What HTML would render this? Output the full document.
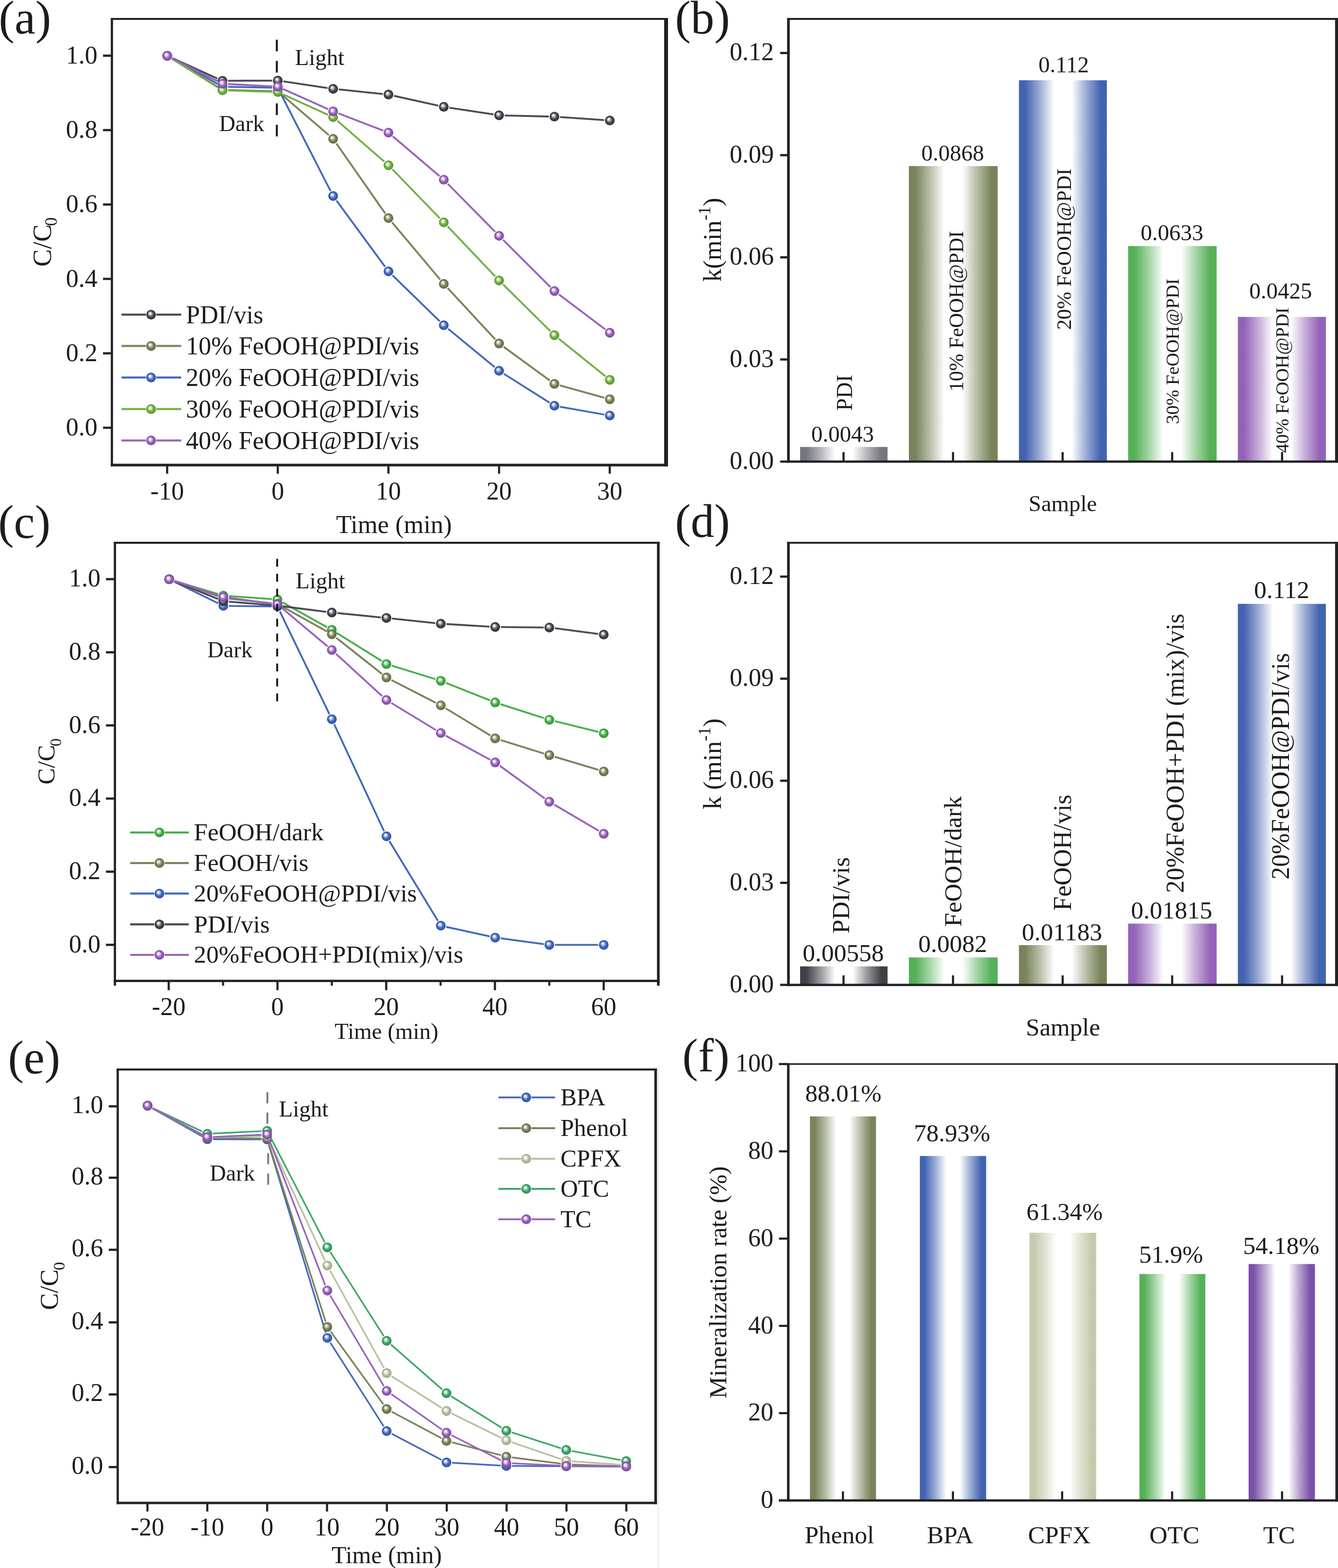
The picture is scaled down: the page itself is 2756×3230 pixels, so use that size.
<!DOCTYPE html>
<html lang="en"><head><meta charset="utf-8"><title>Photocatalytic degradation figure</title>
<style>html,body{margin:0;padding:0;background:#fff}body{width:2756px;height:3230px;overflow:hidden}svg{display:block}text{font-family:"Liberation Serif","Times New Roman",serif}</style></head><body>
<svg xmlns="http://www.w3.org/2000/svg" width="2756" height="3230" viewBox="0 0 2756 3230">
<defs>
<radialGradient id="m_gray" cx="0.5" cy="0.5" r="0.5" fx="0.37" fy="0.34"><stop offset="0" stop-color="#ffffff"/><stop offset="0.1" stop-color="#ffffff"/><stop offset="0.3" stop-color="#b9bac0"/><stop offset="0.6" stop-color="#4a4b52"/><stop offset="1" stop-color="#2b2c31"/></radialGradient>
<radialGradient id="m_olive" cx="0.5" cy="0.5" r="0.5" fx="0.37" fy="0.34"><stop offset="0" stop-color="#ffffff"/><stop offset="0.1" stop-color="#ffffff"/><stop offset="0.3" stop-color="#c9cfb4"/><stop offset="0.6" stop-color="#7a8359"/><stop offset="1" stop-color="#5d6642"/></radialGradient>
<radialGradient id="m_blue" cx="0.5" cy="0.5" r="0.5" fx="0.37" fy="0.34"><stop offset="0" stop-color="#ffffff"/><stop offset="0.1" stop-color="#ffffff"/><stop offset="0.3" stop-color="#b4c6f0"/><stop offset="0.6" stop-color="#4169bd"/><stop offset="1" stop-color="#2d4f9c"/></radialGradient>
<radialGradient id="m_lgreen" cx="0.5" cy="0.5" r="0.5" fx="0.37" fy="0.34"><stop offset="0" stop-color="#ffffff"/><stop offset="0.1" stop-color="#ffffff"/><stop offset="0.3" stop-color="#cfeab4"/><stop offset="0.6" stop-color="#72b043"/><stop offset="1" stop-color="#57902d"/></radialGradient>
<radialGradient id="m_purple" cx="0.5" cy="0.5" r="0.5" fx="0.37" fy="0.34"><stop offset="0" stop-color="#ffffff"/><stop offset="0.1" stop-color="#ffffff"/><stop offset="0.3" stop-color="#e2c8f2"/><stop offset="0.6" stop-color="#9a62bd"/><stop offset="1" stop-color="#7b479e"/></radialGradient>
<radialGradient id="m_green" cx="0.5" cy="0.5" r="0.5" fx="0.37" fy="0.34"><stop offset="0" stop-color="#ffffff"/><stop offset="0.1" stop-color="#ffffff"/><stop offset="0.3" stop-color="#bfe8c0"/><stop offset="0.6" stop-color="#45b049"/><stop offset="1" stop-color="#2f8f35"/></radialGradient>
<radialGradient id="m_beige" cx="0.5" cy="0.5" r="0.5" fx="0.37" fy="0.34"><stop offset="0" stop-color="#ffffff"/><stop offset="0.1" stop-color="#ffffff"/><stop offset="0.3" stop-color="#eef0e2"/><stop offset="0.6" stop-color="#b9c0a0"/><stop offset="1" stop-color="#9aa282"/></radialGradient>
<radialGradient id="m_tgreen" cx="0.5" cy="0.5" r="0.5" fx="0.37" fy="0.34"><stop offset="0" stop-color="#ffffff"/><stop offset="0.1" stop-color="#ffffff"/><stop offset="0.3" stop-color="#b9e6cc"/><stop offset="0.6" stop-color="#3fa869"/><stop offset="1" stop-color="#2c874f"/></radialGradient>
<linearGradient id="bgray" x1="0" y1="0" x2="1" y2="0"><stop offset="0" stop-color="#75777e"/><stop offset="0.07" stop-color="#75777e"/><stop offset="0.24" stop-color="#b7b8bc"/><stop offset="0.4" stop-color="#ffffff"/><stop offset="0.6" stop-color="#ffffff"/><stop offset="0.76" stop-color="#b7b8bc"/><stop offset="0.93" stop-color="#75777e"/><stop offset="1" stop-color="#75777e"/></linearGradient>
<linearGradient id="bdgray" x1="0" y1="0" x2="1" y2="0"><stop offset="0" stop-color="#3f4046"/><stop offset="0.07" stop-color="#3f4046"/><stop offset="0.24" stop-color="#9b9c9f"/><stop offset="0.4" stop-color="#ffffff"/><stop offset="0.6" stop-color="#ffffff"/><stop offset="0.76" stop-color="#9b9c9f"/><stop offset="0.93" stop-color="#3f4046"/><stop offset="1" stop-color="#3f4046"/></linearGradient>
<linearGradient id="bolive" x1="0" y1="0" x2="1" y2="0"><stop offset="0" stop-color="#79835a"/><stop offset="0.07" stop-color="#79835a"/><stop offset="0.24" stop-color="#b9bfa9"/><stop offset="0.4" stop-color="#ffffff"/><stop offset="0.6" stop-color="#ffffff"/><stop offset="0.76" stop-color="#b9bfa9"/><stop offset="0.93" stop-color="#79835a"/><stop offset="1" stop-color="#79835a"/></linearGradient>
<linearGradient id="bblue" x1="0" y1="0" x2="1" y2="0"><stop offset="0" stop-color="#4263b1"/><stop offset="0.07" stop-color="#4263b1"/><stop offset="0.24" stop-color="#9daed6"/><stop offset="0.4" stop-color="#ffffff"/><stop offset="0.6" stop-color="#ffffff"/><stop offset="0.76" stop-color="#9daed6"/><stop offset="0.93" stop-color="#4263b1"/><stop offset="1" stop-color="#4263b1"/></linearGradient>
<linearGradient id="bgreen" x1="0" y1="0" x2="1" y2="0"><stop offset="0" stop-color="#55b058"/><stop offset="0.07" stop-color="#55b058"/><stop offset="0.24" stop-color="#a7d6a8"/><stop offset="0.4" stop-color="#ffffff"/><stop offset="0.6" stop-color="#ffffff"/><stop offset="0.76" stop-color="#a7d6a8"/><stop offset="0.93" stop-color="#55b058"/><stop offset="1" stop-color="#55b058"/></linearGradient>
<linearGradient id="bpurple" x1="0" y1="0" x2="1" y2="0"><stop offset="0" stop-color="#9463b8"/><stop offset="0.07" stop-color="#9463b8"/><stop offset="0.24" stop-color="#c7aeda"/><stop offset="0.4" stop-color="#ffffff"/><stop offset="0.6" stop-color="#ffffff"/><stop offset="0.76" stop-color="#c7aeda"/><stop offset="0.93" stop-color="#9463b8"/><stop offset="1" stop-color="#9463b8"/></linearGradient>
<linearGradient id="bdpurple" x1="0" y1="0" x2="1" y2="0"><stop offset="0" stop-color="#7a50a8"/><stop offset="0.07" stop-color="#7a50a8"/><stop offset="0.24" stop-color="#baa4d2"/><stop offset="0.4" stop-color="#ffffff"/><stop offset="0.6" stop-color="#ffffff"/><stop offset="0.76" stop-color="#baa4d2"/><stop offset="0.93" stop-color="#7a50a8"/><stop offset="1" stop-color="#7a50a8"/></linearGradient>
<linearGradient id="bbeige" x1="0" y1="0" x2="1" y2="0"><stop offset="0" stop-color="#c6caac"/><stop offset="0.07" stop-color="#c6caac"/><stop offset="0.24" stop-color="#e1e3d4"/><stop offset="0.4" stop-color="#ffffff"/><stop offset="0.6" stop-color="#ffffff"/><stop offset="0.76" stop-color="#e1e3d4"/><stop offset="0.93" stop-color="#c6caac"/><stop offset="1" stop-color="#c6caac"/></linearGradient>
</defs>
<rect x="0" y="0" width="2756" height="3230" fill="#ffffff"/>
<g id="panel-a">
<line x1="212.2" y1="881.1" x2="230.5" y2="881.1" stroke="#222226" stroke-width="4.6"/>
<text x="200.8" y="897.2" font-size="52" text-anchor="end" fill="#1c1c1e">0.0</text>
<line x1="212.2" y1="727.8" x2="230.5" y2="727.8" stroke="#222226" stroke-width="4.6"/>
<text x="200.8" y="743.9" font-size="52" text-anchor="end" fill="#1c1c1e">0.2</text>
<line x1="212.2" y1="574.5" x2="230.5" y2="574.5" stroke="#222226" stroke-width="4.6"/>
<text x="200.8" y="590.6" font-size="52" text-anchor="end" fill="#1c1c1e">0.4</text>
<line x1="212.2" y1="421.3" x2="230.5" y2="421.3" stroke="#222226" stroke-width="4.6"/>
<text x="200.8" y="437.4" font-size="52" text-anchor="end" fill="#1c1c1e">0.6</text>
<line x1="212.2" y1="268" x2="230.5" y2="268" stroke="#222226" stroke-width="4.6"/>
<text x="200.8" y="284.1" font-size="52" text-anchor="end" fill="#1c1c1e">0.8</text>
<line x1="212.2" y1="114.7" x2="230.5" y2="114.7" stroke="#222226" stroke-width="4.6"/>
<text x="200.8" y="130.8" font-size="52" text-anchor="end" fill="#1c1c1e">1.0</text>
<line x1="344.3" y1="958" x2="344.3" y2="975.8" stroke="#222226" stroke-width="4.4"/>
<text x="344.3" y="1029.3" font-size="52" text-anchor="middle" fill="#1c1c1e">-10</text>
<line x1="572.2" y1="958" x2="572.2" y2="975.8" stroke="#222226" stroke-width="4.4"/>
<text x="572.2" y="1029.3" font-size="52" text-anchor="middle" fill="#1c1c1e">0</text>
<line x1="800.1" y1="958" x2="800.1" y2="975.8" stroke="#222226" stroke-width="4.4"/>
<text x="800.1" y="1029.3" font-size="52" text-anchor="middle" fill="#1c1c1e">10</text>
<line x1="1028" y1="958" x2="1028" y2="975.8" stroke="#222226" stroke-width="4.4"/>
<text x="1028" y="1029.3" font-size="52" text-anchor="middle" fill="#1c1c1e">20</text>
<line x1="1255.9" y1="958" x2="1255.9" y2="975.8" stroke="#222226" stroke-width="4.4"/>
<text x="1255.9" y="1029.3" font-size="52" text-anchor="middle" fill="#1c1c1e">30</text>
<text x="811.5" y="1097.8" font-size="52.5" text-anchor="middle" fill="#1c1c1e">Time (min)</text>
<text transform="translate(104.9 498.5) rotate(-90)" font-size="54" text-anchor="middle" fill="#1c1c1e">C/C<tspan font-size="35.5" dx="-3.5" dy="12.5">0</tspan></text>
<text x="-2.4" y="69" font-size="97" text-anchor="start" fill="#1c1c1e">(a)</text>
<line x1="570.2" y1="81.7" x2="570.2" y2="282.7" stroke="#1e1e22" stroke-width="4.2" stroke-dasharray="24 19.8"/>
<text x="607.5" y="133.8" font-size="47" text-anchor="start" fill="#1c1c1e">Light</text>
<text x="451.2" y="270.2" font-size="46.5" text-anchor="start" fill="#1c1c1e">Dark</text>
<line x1="355.1" y1="119.8" x2="447.7" y2="161.7" stroke="#4a4b52" stroke-width="3.8"/>
<line x1="469.9" y1="166.4" x2="560.6" y2="166.1" stroke="#4a4b52" stroke-width="3.8"/>
<line x1="583.7" y1="167.7" x2="674.7" y2="181.3" stroke="#4a4b52" stroke-width="3.8"/>
<line x1="697.7" y1="184.2" x2="788.7" y2="193.6" stroke="#4a4b52" stroke-width="3.8"/>
<line x1="811.5" y1="197.3" x2="902.8" y2="217.6" stroke="#4a4b52" stroke-width="3.8"/>
<line x1="925.6" y1="221.9" x2="1016.5" y2="235.7" stroke="#4a4b52" stroke-width="3.8"/>
<line x1="1039.6" y1="237.8" x2="1130.4" y2="240" stroke="#4a4b52" stroke-width="3.8"/>
<line x1="1153.6" y1="241.1" x2="1244.4" y2="247.4" stroke="#4a4b52" stroke-width="3.8"/>
<circle cx="344.5" cy="115" r="10" fill="url(#m_gray)"/>
<circle cx="458.3" cy="166.5" r="10" fill="url(#m_gray)"/>
<circle cx="572.2" cy="166" r="10" fill="url(#m_gray)"/>
<circle cx="686.2" cy="183" r="10" fill="url(#m_gray)"/>
<circle cx="800.2" cy="194.8" r="10" fill="url(#m_gray)"/>
<circle cx="914.1" cy="220.1" r="10" fill="url(#m_gray)"/>
<circle cx="1028" cy="237.5" r="10" fill="url(#m_gray)"/>
<circle cx="1142" cy="240.3" r="10" fill="url(#m_gray)"/>
<circle cx="1256" cy="248.2" r="10" fill="url(#m_gray)"/>
<line x1="354.4" y1="121.1" x2="448.4" y2="178.9" stroke="#7a8359" stroke-width="3.8"/>
<line x1="469.9" y1="185.3" x2="560.6" y2="187.7" stroke="#7a8359" stroke-width="3.8"/>
<line x1="581" y1="195.6" x2="677.4" y2="278.4" stroke="#7a8359" stroke-width="3.8"/>
<line x1="692.8" y1="295.5" x2="793.6" y2="439.8" stroke="#7a8359" stroke-width="3.8"/>
<line x1="807.7" y1="458.2" x2="906.6" y2="575.9" stroke="#7a8359" stroke-width="3.8"/>
<line x1="922" y1="593.3" x2="1020.1" y2="699.1" stroke="#7a8359" stroke-width="3.8"/>
<line x1="1037.4" y1="714.4" x2="1132.6" y2="783.9" stroke="#7a8359" stroke-width="3.8"/>
<line x1="1153.2" y1="793.8" x2="1244.8" y2="819.3" stroke="#7a8359" stroke-width="3.8"/>
<circle cx="344.5" cy="115" r="10" fill="url(#m_olive)"/>
<circle cx="458.3" cy="185" r="10" fill="url(#m_olive)"/>
<circle cx="572.2" cy="188" r="10" fill="url(#m_olive)"/>
<circle cx="686.2" cy="286" r="10" fill="url(#m_olive)"/>
<circle cx="800.2" cy="449.3" r="10" fill="url(#m_olive)"/>
<circle cx="914.1" cy="584.8" r="10" fill="url(#m_olive)"/>
<circle cx="1028" cy="707.6" r="10" fill="url(#m_olive)"/>
<circle cx="1142" cy="790.7" r="10" fill="url(#m_olive)"/>
<circle cx="1256" cy="822.4" r="10" fill="url(#m_olive)"/>
<line x1="354.6" y1="120.7" x2="448.2" y2="172.8" stroke="#4169bd" stroke-width="3.8"/>
<line x1="469.9" y1="178.8" x2="560.6" y2="180.7" stroke="#4169bd" stroke-width="3.8"/>
<line x1="577.5" y1="191.3" x2="680.9" y2="393.5" stroke="#4169bd" stroke-width="3.8"/>
<line x1="693.1" y1="413.1" x2="793.3" y2="549.7" stroke="#4169bd" stroke-width="3.8"/>
<line x1="808.5" y1="567.1" x2="905.8" y2="661.9" stroke="#4169bd" stroke-width="3.8"/>
<line x1="923.1" y1="677.4" x2="1019" y2="756.4" stroke="#4169bd" stroke-width="3.8"/>
<line x1="1037.8" y1="770" x2="1132.2" y2="829.6" stroke="#4169bd" stroke-width="3.8"/>
<line x1="1153.4" y1="837.8" x2="1244.6" y2="854" stroke="#4169bd" stroke-width="3.8"/>
<circle cx="344.5" cy="115" r="10" fill="url(#m_blue)"/>
<circle cx="458.3" cy="178.5" r="10" fill="url(#m_blue)"/>
<circle cx="572.2" cy="181" r="10" fill="url(#m_blue)"/>
<circle cx="686.2" cy="403.8" r="10" fill="url(#m_blue)"/>
<circle cx="800.2" cy="559" r="10" fill="url(#m_blue)"/>
<circle cx="914.1" cy="670" r="10" fill="url(#m_blue)"/>
<circle cx="1028" cy="763.8" r="10" fill="url(#m_blue)"/>
<circle cx="1142" cy="835.8" r="10" fill="url(#m_blue)"/>
<circle cx="1256" cy="856" r="10" fill="url(#m_blue)"/>
<line x1="354.3" y1="121.1" x2="448.5" y2="179.9" stroke="#72b043" stroke-width="3.8"/>
<line x1="469.9" y1="186.4" x2="560.6" y2="189.1" stroke="#72b043" stroke-width="3.8"/>
<line x1="582.8" y1="194.3" x2="675.6" y2="236.5" stroke="#72b043" stroke-width="3.8"/>
<line x1="695" y1="248.9" x2="791.4" y2="332.9" stroke="#72b043" stroke-width="3.8"/>
<line x1="808.3" y1="348.8" x2="906" y2="449.7" stroke="#72b043" stroke-width="3.8"/>
<line x1="922.1" y1="466.4" x2="1020" y2="569.3" stroke="#72b043" stroke-width="3.8"/>
<line x1="1036.2" y1="585.9" x2="1133.8" y2="682.3" stroke="#72b043" stroke-width="3.8"/>
<line x1="1151" y1="697.8" x2="1247" y2="775.1" stroke="#72b043" stroke-width="3.8"/>
<circle cx="344.5" cy="115" r="10" fill="url(#m_lgreen)"/>
<circle cx="458.3" cy="186" r="10" fill="url(#m_lgreen)"/>
<circle cx="572.2" cy="189.5" r="10" fill="url(#m_lgreen)"/>
<circle cx="686.2" cy="241.3" r="10" fill="url(#m_lgreen)"/>
<circle cx="800.2" cy="340.5" r="10" fill="url(#m_lgreen)"/>
<circle cx="914.1" cy="458" r="10" fill="url(#m_lgreen)"/>
<circle cx="1028" cy="577.7" r="10" fill="url(#m_lgreen)"/>
<circle cx="1142" cy="690.5" r="10" fill="url(#m_lgreen)"/>
<circle cx="1256" cy="782.4" r="10" fill="url(#m_lgreen)"/>
<line x1="354.9" y1="120.2" x2="447.9" y2="167.3" stroke="#9a62bd" stroke-width="3.8"/>
<line x1="469.9" y1="173.1" x2="560.6" y2="178" stroke="#9a62bd" stroke-width="3.8"/>
<line x1="582.8" y1="183.3" x2="675.6" y2="224.7" stroke="#9a62bd" stroke-width="3.8"/>
<line x1="697" y1="233.6" x2="789.4" y2="269" stroke="#9a62bd" stroke-width="3.8"/>
<line x1="809" y1="280.7" x2="905.3" y2="362.7" stroke="#9a62bd" stroke-width="3.8"/>
<line x1="922.2" y1="378.5" x2="1019.9" y2="477.5" stroke="#9a62bd" stroke-width="3.8"/>
<line x1="1036.2" y1="494" x2="1133.8" y2="591.3" stroke="#9a62bd" stroke-width="3.8"/>
<line x1="1151.3" y1="606.5" x2="1246.7" y2="678.4" stroke="#9a62bd" stroke-width="3.8"/>
<circle cx="344.5" cy="115" r="10" fill="url(#m_purple)"/>
<circle cx="458.3" cy="172.5" r="10" fill="url(#m_purple)"/>
<circle cx="572.2" cy="178.6" r="10" fill="url(#m_purple)"/>
<circle cx="686.2" cy="229.4" r="10" fill="url(#m_purple)"/>
<circle cx="800.2" cy="273.2" r="10" fill="url(#m_purple)"/>
<circle cx="914.1" cy="370.2" r="10" fill="url(#m_purple)"/>
<circle cx="1028" cy="485.8" r="10" fill="url(#m_purple)"/>
<circle cx="1142" cy="599.5" r="10" fill="url(#m_purple)"/>
<circle cx="1256" cy="685.4" r="10" fill="url(#m_purple)"/>
<line x1="250.2" y1="648.2" x2="300.4" y2="648.2" stroke="#4a4b52" stroke-width="4.2"/>
<line x1="322" y1="648.2" x2="373.2" y2="648.2" stroke="#4a4b52" stroke-width="4.2"/>
<circle cx="311.2" cy="648.2" r="10" fill="url(#m_gray)"/>
<text x="383" y="665.8" font-size="52.1" text-anchor="start" fill="#1c1c1e">PDI/vis</text>
<line x1="250.2" y1="712.7" x2="300.4" y2="712.7" stroke="#7a8359" stroke-width="4.2"/>
<line x1="322" y1="712.7" x2="373.2" y2="712.7" stroke="#7a8359" stroke-width="4.2"/>
<circle cx="311.2" cy="712.7" r="10" fill="url(#m_olive)"/>
<text x="383" y="730.3" font-size="52.1" text-anchor="start" fill="#1c1c1e">10% FeOOH@PDI/vis</text>
<line x1="250.2" y1="777.6" x2="300.4" y2="777.6" stroke="#4169bd" stroke-width="4.2"/>
<line x1="322" y1="777.6" x2="373.2" y2="777.6" stroke="#4169bd" stroke-width="4.2"/>
<circle cx="311.2" cy="777.6" r="10" fill="url(#m_blue)"/>
<text x="383" y="795.2" font-size="52.1" text-anchor="start" fill="#1c1c1e">20% FeOOH@PDI/vis</text>
<line x1="250.2" y1="842.7" x2="300.4" y2="842.7" stroke="#72b043" stroke-width="4.2"/>
<line x1="322" y1="842.7" x2="373.2" y2="842.7" stroke="#72b043" stroke-width="4.2"/>
<circle cx="311.2" cy="842.7" r="10" fill="url(#m_lgreen)"/>
<text x="383" y="860.3" font-size="52.1" text-anchor="start" fill="#1c1c1e">30% FeOOH@PDI/vis</text>
<line x1="250.2" y1="907.3" x2="300.4" y2="907.3" stroke="#9a62bd" stroke-width="4.2"/>
<line x1="322" y1="907.3" x2="373.2" y2="907.3" stroke="#9a62bd" stroke-width="4.2"/>
<circle cx="311.2" cy="907.3" r="10" fill="url(#m_purple)"/>
<text x="383" y="924.9" font-size="52.1" text-anchor="start" fill="#1c1c1e">40% FeOOH@PDI/vis</text>
<line x1="230.5" y1="36.9" x2="230.5" y2="960.8" stroke="#222226" stroke-width="4.6"/>
<line x1="1372" y1="36.9" x2="1372" y2="960.8" stroke="#222226" stroke-width="8"/>
<line x1="228.2" y1="39" x2="1376" y2="39" stroke="#222226" stroke-width="4.2"/>
<line x1="228.2" y1="958" x2="1376" y2="958" stroke="#222226" stroke-width="5.5"/>
</g>
<g id="panel-b">
<rect x="1648" y="920.7" width="180.2" height="30.2" fill="url(#bgray)"/>
<rect x="1872.1" y="342.1" width="182.9" height="608.8" fill="url(#bolive)"/>
<rect x="2098.8" y="165.3" width="181.1" height="785.6" fill="url(#bblue)"/>
<rect x="2323.6" y="506.9" width="182.4" height="444" fill="url(#bgreen)"/>
<rect x="2549.7" y="652.8" width="181.3" height="298.1" fill="url(#bpurple)"/>
<line x1="1607" y1="950.9" x2="1624" y2="950.9" stroke="#222226" stroke-width="4.6"/>
<text x="1594" y="965.9" font-size="52" text-anchor="end" fill="#1c1c1e">0.00</text>
<line x1="1607" y1="740.5" x2="1624" y2="740.5" stroke="#222226" stroke-width="4.6"/>
<text x="1594" y="755.5" font-size="52" text-anchor="end" fill="#1c1c1e">0.03</text>
<line x1="1607" y1="530.1" x2="1624" y2="530.1" stroke="#222226" stroke-width="4.6"/>
<text x="1594" y="545.1" font-size="52" text-anchor="end" fill="#1c1c1e">0.06</text>
<line x1="1607" y1="319.6" x2="1624" y2="319.6" stroke="#222226" stroke-width="4.6"/>
<text x="1594" y="334.6" font-size="52" text-anchor="end" fill="#1c1c1e">0.09</text>
<line x1="1607" y1="109.2" x2="1624" y2="109.2" stroke="#222226" stroke-width="4.6"/>
<text x="1594" y="124.2" font-size="52" text-anchor="end" fill="#1c1c1e">0.12</text>
<line x1="1737.5" y1="931.3" x2="1737.5" y2="950.9" stroke="#222226" stroke-width="4.4"/>
<line x1="1963" y1="931.3" x2="1963" y2="950.9" stroke="#222226" stroke-width="4.4"/>
<line x1="2188.8" y1="931.3" x2="2188.8" y2="950.9" stroke="#222226" stroke-width="4.4"/>
<line x1="2414.4" y1="931.3" x2="2414.4" y2="950.9" stroke="#222226" stroke-width="4.4"/>
<line x1="2640.8" y1="931.3" x2="2640.8" y2="950.9" stroke="#222226" stroke-width="4.4"/>
<line x1="1624" y1="37.2" x2="1624" y2="953.3" stroke="#222226" stroke-width="5.5"/>
<line x1="2753" y1="37.2" x2="2753" y2="953.3" stroke="#222226" stroke-width="6"/>
<line x1="1621.3" y1="39" x2="2756" y2="39" stroke="#222226" stroke-width="3.8"/>
<line x1="1621.3" y1="950.9" x2="2756" y2="950.9" stroke="#222226" stroke-width="4.8"/>
<text transform="translate(1484.5 493.8) rotate(-90)" font-size="52.8" text-anchor="middle" fill="#1c1c1e">k(min<tspan font-size="35" dy="-21.5">-1</tspan><tspan dy="21.5">)</tspan></text>
<text x="1390.4" y="69" font-size="97" text-anchor="start" fill="#1c1c1e">(b)</text>
<text x="1735.5" y="910.3" font-size="47" text-anchor="middle" fill="#1c1c1e">0.0043</text>
<text x="1962.3" y="330.6" font-size="47" text-anchor="middle" fill="#1c1c1e">0.0868</text>
<text x="2191" y="149.3" font-size="47" text-anchor="middle" fill="#1c1c1e">0.112</text>
<text x="2414" y="494.9" font-size="47" text-anchor="middle" fill="#1c1c1e">0.0633</text>
<text x="2637.8" y="614.5" font-size="47" text-anchor="middle" fill="#1c1c1e">0.0425</text>
<text x="1755" y="846" font-size="46" text-anchor="start" fill="#1c1c1e" transform="rotate(-90 1755 846)">PDI</text>
<text x="1984" y="806.5" font-size="42.5" text-anchor="start" fill="#1c1c1e" transform="rotate(-90 1984 806.5)">10% FeOOH@PDI</text>
<text x="2206" y="679.3" font-size="42.7" text-anchor="start" fill="#1c1c1e" transform="rotate(-90 2206 679.3)">20% FeOOH@PDI</text>
<text x="2427.5" y="873.5" font-size="38.5" text-anchor="start" fill="#1c1c1e" transform="rotate(-90 2427.5 873.5)">30% FeOOH@PDI</text>
<text x="2653.5" y="933" font-size="38.5" text-anchor="start" fill="#1c1c1e" transform="rotate(-90 2653.5 933)">40% FeOOH@PDI</text>
<text x="2189" y="1052.8" font-size="47" text-anchor="middle" fill="#1c1c1e">Sample</text>
</g>
<g id="panel-c">
<line x1="218.2" y1="1946.3" x2="236.7" y2="1946.3" stroke="#222226" stroke-width="4.6"/>
<text x="207" y="1961.5" font-size="52" text-anchor="end" fill="#1c1c1e">0.0</text>
<line x1="218.2" y1="1795.6" x2="236.7" y2="1795.6" stroke="#222226" stroke-width="4.6"/>
<text x="207" y="1810.8" font-size="52" text-anchor="end" fill="#1c1c1e">0.2</text>
<line x1="218.2" y1="1645" x2="236.7" y2="1645" stroke="#222226" stroke-width="4.6"/>
<text x="207" y="1660.2" font-size="52" text-anchor="end" fill="#1c1c1e">0.4</text>
<line x1="218.2" y1="1494.3" x2="236.7" y2="1494.3" stroke="#222226" stroke-width="4.6"/>
<text x="207" y="1509.5" font-size="52" text-anchor="end" fill="#1c1c1e">0.6</text>
<line x1="218.2" y1="1343.7" x2="236.7" y2="1343.7" stroke="#222226" stroke-width="4.6"/>
<text x="207" y="1358.9" font-size="52" text-anchor="end" fill="#1c1c1e">0.8</text>
<line x1="218.2" y1="1193" x2="236.7" y2="1193" stroke="#222226" stroke-width="4.6"/>
<text x="207" y="1208.2" font-size="52" text-anchor="end" fill="#1c1c1e">1.0</text>
<line x1="347.5" y1="2020.6" x2="347.5" y2="2039.8" stroke="#222226" stroke-width="4.4"/>
<text x="347.5" y="2091.3" font-size="52" text-anchor="middle" fill="#1c1c1e">-20</text>
<line x1="571.5" y1="2020.6" x2="571.5" y2="2039.8" stroke="#222226" stroke-width="4.4"/>
<text x="571.5" y="2091.3" font-size="52" text-anchor="middle" fill="#1c1c1e">0</text>
<line x1="795.5" y1="2020.6" x2="795.5" y2="2039.8" stroke="#222226" stroke-width="4.4"/>
<text x="795.5" y="2091.3" font-size="52" text-anchor="middle" fill="#1c1c1e">20</text>
<line x1="1019.5" y1="2020.6" x2="1019.5" y2="2039.8" stroke="#222226" stroke-width="4.4"/>
<text x="1019.5" y="2091.3" font-size="52" text-anchor="middle" fill="#1c1c1e">40</text>
<line x1="1243.5" y1="2020.6" x2="1243.5" y2="2039.8" stroke="#222226" stroke-width="4.4"/>
<text x="1243.5" y="2091.3" font-size="52" text-anchor="middle" fill="#1c1c1e">60</text>
<line x1="459.5" y1="2020.6" x2="459.5" y2="2030.5" stroke="#222226" stroke-width="4.2"/>
<line x1="683.5" y1="2020.6" x2="683.5" y2="2030.5" stroke="#222226" stroke-width="4.2"/>
<line x1="907.5" y1="2020.6" x2="907.5" y2="2030.5" stroke="#222226" stroke-width="4.2"/>
<line x1="1131.5" y1="2020.6" x2="1131.5" y2="2030.5" stroke="#222226" stroke-width="4.2"/>
<line x1="236.7" y1="2020.6" x2="236.7" y2="2030.5" stroke="#222226" stroke-width="4.6"/>
<line x1="1356" y1="2020.6" x2="1356" y2="2030.5" stroke="#222226" stroke-width="5.5"/>
<text x="796" y="2140" font-size="47" text-anchor="middle" fill="#1c1c1e">Time (min)</text>
<text transform="translate(112.4 1568.5) rotate(-90)" font-size="50.5" text-anchor="middle" fill="#1c1c1e">C/C<tspan font-size="33" dx="-3" dy="14">0</tspan></text>
<text x="-3.7" y="1107.8" font-size="97" text-anchor="start" fill="#1c1c1e">(c)</text>
<text x="609" y="1212.3" font-size="47" text-anchor="start" fill="#1c1c1e">Light</text>
<text x="427" y="1354" font-size="46.5" text-anchor="start" fill="#1c1c1e">Dark</text>
<line x1="359.6" y1="1196.7" x2="448.9" y2="1223.6" stroke="#45b049" stroke-width="3.8"/>
<line x1="471.6" y1="1227.8" x2="559.9" y2="1234.2" stroke="#45b049" stroke-width="3.8"/>
<line x1="581.6" y1="1240.6" x2="673.4" y2="1291.8" stroke="#45b049" stroke-width="3.8"/>
<line x1="693.3" y1="1303.6" x2="786.2" y2="1361.7" stroke="#45b049" stroke-width="3.8"/>
<line x1="807.1" y1="1371.3" x2="896.9" y2="1399" stroke="#45b049" stroke-width="3.8"/>
<line x1="918.8" y1="1406.7" x2="1009.2" y2="1442.8" stroke="#45b049" stroke-width="3.8"/>
<line x1="1031.1" y1="1450.6" x2="1120.4" y2="1479.2" stroke="#45b049" stroke-width="3.8"/>
<line x1="1142.8" y1="1485.5" x2="1232.3" y2="1507.6" stroke="#45b049" stroke-width="3.8"/>
<circle cx="348.5" cy="1193.3" r="10" fill="url(#m_green)"/>
<circle cx="460" cy="1227" r="10" fill="url(#m_green)"/>
<circle cx="571.5" cy="1235" r="10" fill="url(#m_green)"/>
<circle cx="683.5" cy="1297.4" r="10" fill="url(#m_green)"/>
<circle cx="796" cy="1367.9" r="10" fill="url(#m_green)"/>
<circle cx="908" cy="1402.4" r="10" fill="url(#m_green)"/>
<circle cx="1020" cy="1447.1" r="10" fill="url(#m_green)"/>
<circle cx="1131.5" cy="1482.7" r="10" fill="url(#m_green)"/>
<circle cx="1243.6" cy="1510.4" r="10" fill="url(#m_green)"/>
<line x1="359.5" y1="1197.1" x2="449" y2="1228.2" stroke="#7a8359" stroke-width="3.8"/>
<line x1="471.5" y1="1233.2" x2="560" y2="1242.8" stroke="#7a8359" stroke-width="3.8"/>
<line x1="581.6" y1="1249.7" x2="673.4" y2="1300.8" stroke="#7a8359" stroke-width="3.8"/>
<line x1="692.6" y1="1313.7" x2="786.9" y2="1388.4" stroke="#7a8359" stroke-width="3.8"/>
<line x1="806.3" y1="1400.9" x2="897.7" y2="1447.7" stroke="#7a8359" stroke-width="3.8"/>
<line x1="917.9" y1="1459" x2="1010.1" y2="1515.1" stroke="#7a8359" stroke-width="3.8"/>
<line x1="1031.1" y1="1524.5" x2="1120.4" y2="1552.2" stroke="#7a8359" stroke-width="3.8"/>
<line x1="1142.6" y1="1558.9" x2="1232.5" y2="1585.9" stroke="#7a8359" stroke-width="3.8"/>
<circle cx="348.5" cy="1193.3" r="10" fill="url(#m_olive)"/>
<circle cx="460" cy="1232" r="10" fill="url(#m_olive)"/>
<circle cx="571.5" cy="1244" r="10" fill="url(#m_olive)"/>
<circle cx="683.5" cy="1306.5" r="10" fill="url(#m_olive)"/>
<circle cx="796" cy="1395.6" r="10" fill="url(#m_olive)"/>
<circle cx="908" cy="1453" r="10" fill="url(#m_olive)"/>
<circle cx="1020" cy="1521.1" r="10" fill="url(#m_olive)"/>
<circle cx="1131.5" cy="1555.6" r="10" fill="url(#m_olive)"/>
<circle cx="1243.6" cy="1589.2" r="10" fill="url(#m_olive)"/>
<line x1="358.9" y1="1198.4" x2="449.6" y2="1242.9" stroke="#4169bd" stroke-width="3.8"/>
<line x1="471.6" y1="1248.1" x2="559.9" y2="1249.2" stroke="#4169bd" stroke-width="3.8"/>
<line x1="576.5" y1="1259.7" x2="678.5" y2="1471.1" stroke="#4169bd" stroke-width="3.8"/>
<line x1="688.4" y1="1492" x2="791.1" y2="1712.2" stroke="#4169bd" stroke-width="3.8"/>
<line x1="802" y1="1732.6" x2="902" y2="1896.9" stroke="#4169bd" stroke-width="3.8"/>
<line x1="919.3" y1="1909.3" x2="1008.7" y2="1928.9" stroke="#4169bd" stroke-width="3.8"/>
<line x1="1031.5" y1="1932.9" x2="1120" y2="1944.9" stroke="#4169bd" stroke-width="3.8"/>
<line x1="1143.1" y1="1946.4" x2="1232" y2="1946.4" stroke="#4169bd" stroke-width="3.8"/>
<circle cx="348.5" cy="1193.3" r="10" fill="url(#m_blue)"/>
<circle cx="460" cy="1248" r="10" fill="url(#m_blue)"/>
<circle cx="571.5" cy="1249.3" r="10" fill="url(#m_blue)"/>
<circle cx="683.5" cy="1481.5" r="10" fill="url(#m_blue)"/>
<circle cx="796" cy="1722.7" r="10" fill="url(#m_blue)"/>
<circle cx="908" cy="1906.8" r="10" fill="url(#m_blue)"/>
<circle cx="1020" cy="1931.4" r="10" fill="url(#m_blue)"/>
<circle cx="1131.5" cy="1946.4" r="10" fill="url(#m_blue)"/>
<circle cx="1243.6" cy="1946.4" r="10" fill="url(#m_blue)"/>
<line x1="359.3" y1="1197.7" x2="449.2" y2="1234.1" stroke="#4a4b52" stroke-width="3.8"/>
<line x1="471.6" y1="1239.4" x2="559.9" y2="1246.6" stroke="#4a4b52" stroke-width="3.8"/>
<line x1="583" y1="1249" x2="672" y2="1260.3" stroke="#4a4b52" stroke-width="3.8"/>
<line x1="695" y1="1262.9" x2="784.5" y2="1271.8" stroke="#4a4b52" stroke-width="3.8"/>
<line x1="807.5" y1="1274.1" x2="896.5" y2="1283.6" stroke="#4a4b52" stroke-width="3.8"/>
<line x1="919.6" y1="1285.5" x2="1008.4" y2="1290.8" stroke="#4a4b52" stroke-width="3.8"/>
<line x1="1031.6" y1="1291.6" x2="1119.9" y2="1292.6" stroke="#4a4b52" stroke-width="3.8"/>
<line x1="1143" y1="1294.2" x2="1232.1" y2="1305.8" stroke="#4a4b52" stroke-width="3.8"/>
<circle cx="348.5" cy="1193.3" r="10" fill="url(#m_gray)"/>
<circle cx="460" cy="1238.5" r="10" fill="url(#m_gray)"/>
<circle cx="571.5" cy="1247.5" r="10" fill="url(#m_gray)"/>
<circle cx="683.5" cy="1261.8" r="10" fill="url(#m_gray)"/>
<circle cx="796" cy="1272.9" r="10" fill="url(#m_gray)"/>
<circle cx="908" cy="1284.8" r="10" fill="url(#m_gray)"/>
<circle cx="1020" cy="1291.5" r="10" fill="url(#m_gray)"/>
<circle cx="1131.5" cy="1292.7" r="10" fill="url(#m_gray)"/>
<circle cx="1243.6" cy="1307.3" r="10" fill="url(#m_gray)"/>
<line x1="359.5" y1="1196.9" x2="449" y2="1226.4" stroke="#9a62bd" stroke-width="3.8"/>
<line x1="471.5" y1="1231.5" x2="560" y2="1243.3" stroke="#9a62bd" stroke-width="3.8"/>
<line x1="580.4" y1="1252.3" x2="674.6" y2="1331.5" stroke="#9a62bd" stroke-width="3.8"/>
<line x1="692.1" y1="1346.8" x2="787.4" y2="1434.2" stroke="#9a62bd" stroke-width="3.8"/>
<line x1="805.9" y1="1448" x2="898.1" y2="1504" stroke="#9a62bd" stroke-width="3.8"/>
<line x1="918.2" y1="1515.5" x2="1009.8" y2="1565.1" stroke="#9a62bd" stroke-width="3.8"/>
<line x1="1029.4" y1="1577.4" x2="1122.1" y2="1644.7" stroke="#9a62bd" stroke-width="3.8"/>
<line x1="1141.5" y1="1657.4" x2="1233.6" y2="1711.7" stroke="#9a62bd" stroke-width="3.8"/>
<circle cx="348.5" cy="1193.3" r="10" fill="url(#m_purple)"/>
<circle cx="460" cy="1230" r="10" fill="url(#m_purple)"/>
<circle cx="571.5" cy="1244.8" r="10" fill="url(#m_purple)"/>
<circle cx="683.5" cy="1339" r="10" fill="url(#m_purple)"/>
<circle cx="796" cy="1442" r="10" fill="url(#m_purple)"/>
<circle cx="908" cy="1510" r="10" fill="url(#m_purple)"/>
<circle cx="1020" cy="1570.6" r="10" fill="url(#m_purple)"/>
<circle cx="1131.5" cy="1651.5" r="10" fill="url(#m_purple)"/>
<circle cx="1243.6" cy="1717.6" r="10" fill="url(#m_purple)"/>
<line x1="570.9" y1="1151.2" x2="570.9" y2="1445.4" stroke="#141416" stroke-width="3.8" stroke-dasharray="16.3 14.5"/>
<line x1="268.2" y1="1714.8" x2="317.6" y2="1714.8" stroke="#45b049" stroke-width="4.2"/>
<line x1="339.2" y1="1714.8" x2="388.8" y2="1714.8" stroke="#45b049" stroke-width="4.2"/>
<circle cx="328.4" cy="1714.8" r="10" fill="url(#m_green)"/>
<text x="399.3" y="1731.1" font-size="51.2" text-anchor="start" fill="#1c1c1e">FeOOH/dark</text>
<line x1="268.2" y1="1777.8" x2="317.6" y2="1777.8" stroke="#7a8359" stroke-width="4.2"/>
<line x1="339.2" y1="1777.8" x2="388.8" y2="1777.8" stroke="#7a8359" stroke-width="4.2"/>
<circle cx="328.4" cy="1777.8" r="10" fill="url(#m_olive)"/>
<text x="399.3" y="1794.1" font-size="51.2" text-anchor="start" fill="#1c1c1e">FeOOH/vis</text>
<line x1="268.2" y1="1840.7" x2="317.6" y2="1840.7" stroke="#4169bd" stroke-width="4.2"/>
<line x1="339.2" y1="1840.7" x2="388.8" y2="1840.7" stroke="#4169bd" stroke-width="4.2"/>
<circle cx="328.4" cy="1840.7" r="10" fill="url(#m_blue)"/>
<text x="399.3" y="1857" font-size="51.2" text-anchor="start" fill="#1c1c1e">20%FeOOH@PDI/vis</text>
<line x1="268.2" y1="1904.2" x2="317.6" y2="1904.2" stroke="#4a4b52" stroke-width="4.2"/>
<line x1="339.2" y1="1904.2" x2="388.8" y2="1904.2" stroke="#4a4b52" stroke-width="4.2"/>
<circle cx="328.4" cy="1904.2" r="10" fill="url(#m_gray)"/>
<text x="399.3" y="1920.5" font-size="51.2" text-anchor="start" fill="#1c1c1e">PDI/vis</text>
<line x1="268.2" y1="1967" x2="317.6" y2="1967" stroke="#9a62bd" stroke-width="4.2"/>
<line x1="339.2" y1="1967" x2="388.8" y2="1967" stroke="#9a62bd" stroke-width="4.2"/>
<circle cx="328.4" cy="1967" r="10" fill="url(#m_purple)"/>
<text x="399.3" y="1983.3" font-size="51.2" text-anchor="start" fill="#1c1c1e">20%FeOOH+PDI(mix)/vis</text>
<line x1="236.7" y1="1116.1" x2="236.7" y2="2023" stroke="#222226" stroke-width="4.6"/>
<line x1="1356" y1="1116.1" x2="1356" y2="2023" stroke="#222226" stroke-width="5.5"/>
<line x1="234.4" y1="1118.2" x2="1358.8" y2="1118.2" stroke="#222226" stroke-width="4.2"/>
<line x1="234.4" y1="2020.6" x2="1358.8" y2="2020.6" stroke="#222226" stroke-width="4.8"/>
</g>
<g id="panel-d">
<rect x="1648" y="1990.7" width="180.2" height="38.1" fill="url(#bdgray)"/>
<rect x="1872.1" y="1972.3" width="182.9" height="56.5" fill="url(#bgreen)"/>
<rect x="2098.8" y="1946.9" width="181.1" height="81.9" fill="url(#bolive)"/>
<rect x="2323.6" y="1902.6" width="182.4" height="126.2" fill="url(#bpurple)"/>
<rect x="2549.7" y="1243.9" width="181.3" height="784.9" fill="url(#bblue)"/>
<line x1="1607" y1="2028.8" x2="1624" y2="2028.8" stroke="#222226" stroke-width="4.6"/>
<text x="1594" y="2043.8" font-size="52" text-anchor="end" fill="#1c1c1e">0.00</text>
<line x1="1607" y1="1818.6" x2="1624" y2="1818.6" stroke="#222226" stroke-width="4.6"/>
<text x="1594" y="1833.6" font-size="52" text-anchor="end" fill="#1c1c1e">0.03</text>
<line x1="1607" y1="1608.3" x2="1624" y2="1608.3" stroke="#222226" stroke-width="4.6"/>
<text x="1594" y="1623.3" font-size="52" text-anchor="end" fill="#1c1c1e">0.06</text>
<line x1="1607" y1="1398.1" x2="1624" y2="1398.1" stroke="#222226" stroke-width="4.6"/>
<text x="1594" y="1413.1" font-size="52" text-anchor="end" fill="#1c1c1e">0.09</text>
<line x1="1607" y1="1187.8" x2="1624" y2="1187.8" stroke="#222226" stroke-width="4.6"/>
<text x="1594" y="1202.8" font-size="52" text-anchor="end" fill="#1c1c1e">0.12</text>
<line x1="1737.5" y1="2009.2" x2="1737.5" y2="2028.8" stroke="#222226" stroke-width="4.4"/>
<line x1="1963" y1="2009.2" x2="1963" y2="2028.8" stroke="#222226" stroke-width="4.4"/>
<line x1="2188.8" y1="2009.2" x2="2188.8" y2="2028.8" stroke="#222226" stroke-width="4.4"/>
<line x1="2414.4" y1="2009.2" x2="2414.4" y2="2028.8" stroke="#222226" stroke-width="4.4"/>
<line x1="2640.8" y1="2009.2" x2="2640.8" y2="2028.8" stroke="#222226" stroke-width="4.4"/>
<line x1="1624" y1="1116.4" x2="1624" y2="2031.2" stroke="#222226" stroke-width="5.5"/>
<line x1="2753" y1="1116.4" x2="2753" y2="2031.2" stroke="#222226" stroke-width="6"/>
<line x1="1621.3" y1="1118.2" x2="2756" y2="1118.2" stroke="#222226" stroke-width="3.8"/>
<line x1="1621.3" y1="2028.8" x2="2756" y2="2028.8" stroke="#222226" stroke-width="4.8"/>
<text transform="translate(1484.5 1573.4) rotate(-90)" font-size="53.2" text-anchor="middle" fill="#1c1c1e">k (min<tspan font-size="35" dy="-21.5">-1</tspan><tspan dy="21.5">)</tspan></text>
<text x="1390.4" y="1106" font-size="97" text-anchor="start" fill="#1c1c1e">(d)</text>
<text x="1737" y="1980" font-size="51.5" text-anchor="middle" fill="#1c1c1e">0.00558</text>
<text x="1962.4" y="1961" font-size="51.5" text-anchor="middle" fill="#1c1c1e">0.0082</text>
<text x="2187.6" y="1936.5" font-size="51.5" text-anchor="middle" fill="#1c1c1e">0.01183</text>
<text x="2413.3" y="1892" font-size="51.5" text-anchor="middle" fill="#1c1c1e">0.01815</text>
<text x="2640" y="1232.1" font-size="51.5" text-anchor="middle" fill="#1c1c1e">0.112</text>
<text x="1748.5" y="1923" font-size="51.5" text-anchor="start" fill="#1c1c1e" transform="rotate(-90 1748.5 1923)">PDI/vis</text>
<text x="1979.5" y="1909" font-size="51.5" text-anchor="start" fill="#1c1c1e" transform="rotate(-90 1979.5 1909)">FeOOH/dark</text>
<text x="2206.5" y="1875.7" font-size="51.8" text-anchor="start" fill="#1c1c1e" transform="rotate(-90 2206.5 1875.7)">FeOOH/vis</text>
<text x="2437.5" y="1839.5" font-size="51.9" text-anchor="start" fill="#1c1c1e" transform="rotate(-90 2437.5 1839.5)">20%FeOOH+PDI (mix)/vis</text>
<text x="2655.5" y="1811.7" font-size="52" text-anchor="start" fill="#1c1c1e" transform="rotate(-90 2655.5 1811.7)">20%FeOOH@PDI/vis</text>
<text x="2189.6" y="2132.5" font-size="51" text-anchor="middle" fill="#1c1c1e">Sample</text>
</g>
<g id="panel-e">
<line x1="224" y1="3022.1" x2="242.5" y2="3022.1" stroke="#222226" stroke-width="4.6"/>
<text x="212.6" y="3035.6" font-size="52" text-anchor="end" fill="#1c1c1e">0.0</text>
<line x1="224" y1="2872.5" x2="242.5" y2="2872.5" stroke="#222226" stroke-width="4.6"/>
<text x="212.6" y="2886" font-size="52" text-anchor="end" fill="#1c1c1e">0.2</text>
<line x1="224" y1="2724" x2="242.5" y2="2724" stroke="#222226" stroke-width="4.6"/>
<text x="212.6" y="2737.5" font-size="52" text-anchor="end" fill="#1c1c1e">0.4</text>
<line x1="224" y1="2574.5" x2="242.5" y2="2574.5" stroke="#222226" stroke-width="4.6"/>
<text x="212.6" y="2588" font-size="52" text-anchor="end" fill="#1c1c1e">0.6</text>
<line x1="224" y1="2426" x2="242.5" y2="2426" stroke="#222226" stroke-width="4.6"/>
<text x="212.6" y="2439.5" font-size="52" text-anchor="end" fill="#1c1c1e">0.8</text>
<line x1="224" y1="2279" x2="242.5" y2="2279" stroke="#222226" stroke-width="4.6"/>
<text x="212.6" y="2292.5" font-size="52" text-anchor="end" fill="#1c1c1e">1.0</text>
<line x1="303.7" y1="3095.9" x2="303.7" y2="3113.6" stroke="#222226" stroke-width="4.4"/>
<text x="303.7" y="3162.5" font-size="52" text-anchor="middle" fill="#1c1c1e">-20</text>
<line x1="427" y1="3095.9" x2="427" y2="3113.6" stroke="#222226" stroke-width="4.4"/>
<text x="427" y="3162.5" font-size="52" text-anchor="middle" fill="#1c1c1e">-10</text>
<line x1="550.3" y1="3095.9" x2="550.3" y2="3113.6" stroke="#222226" stroke-width="4.4"/>
<text x="550.3" y="3162.5" font-size="52" text-anchor="middle" fill="#1c1c1e">0</text>
<line x1="673.6" y1="3095.9" x2="673.6" y2="3113.6" stroke="#222226" stroke-width="4.4"/>
<text x="673.6" y="3162.5" font-size="52" text-anchor="middle" fill="#1c1c1e">10</text>
<line x1="796.9" y1="3095.9" x2="796.9" y2="3113.6" stroke="#222226" stroke-width="4.4"/>
<text x="796.9" y="3162.5" font-size="52" text-anchor="middle" fill="#1c1c1e">20</text>
<line x1="920.2" y1="3095.9" x2="920.2" y2="3113.6" stroke="#222226" stroke-width="4.4"/>
<text x="920.2" y="3162.5" font-size="52" text-anchor="middle" fill="#1c1c1e">30</text>
<line x1="1043.5" y1="3095.9" x2="1043.5" y2="3113.6" stroke="#222226" stroke-width="4.4"/>
<text x="1043.5" y="3162.5" font-size="52" text-anchor="middle" fill="#1c1c1e">40</text>
<line x1="1166.8" y1="3095.9" x2="1166.8" y2="3113.6" stroke="#222226" stroke-width="4.4"/>
<text x="1166.8" y="3162.5" font-size="52" text-anchor="middle" fill="#1c1c1e">50</text>
<line x1="1290.1" y1="3095.9" x2="1290.1" y2="3113.6" stroke="#222226" stroke-width="4.4"/>
<text x="1290.1" y="3162.5" font-size="52" text-anchor="middle" fill="#1c1c1e">60</text>
<text x="796.6" y="3220.4" font-size="50" text-anchor="middle" fill="#1c1c1e">Time (min)</text>
<text transform="translate(118.8 2649) rotate(-90)" font-size="52" text-anchor="middle" fill="#1c1c1e">C/C<tspan font-size="34.5" dx="-2" dy="14">0</tspan></text>
<text x="16.5" y="2210.5" font-size="97" text-anchor="start" fill="#1c1c1e">(e)</text>
<line x1="550.7" y1="2249.8" x2="550.7" y2="2315" stroke="#77777c" stroke-width="3.8" stroke-dasharray="23 18.9"/>
<line x1="552.4" y1="2375.5" x2="552.4" y2="2441.2" stroke="#77777c" stroke-width="3.8" stroke-dasharray="23 18.9"/>
<text x="574.6" y="2299.8" font-size="47" text-anchor="start" fill="#1c1c1e">Light</text>
<text x="432" y="2431.7" font-size="46.5" text-anchor="start" fill="#1c1c1e">Dark</text>
<line x1="314.1" y1="2283.3" x2="416.9" y2="2340.9" stroke="#4169bd" stroke-width="3.4"/>
<line x1="438.6" y1="2346.7" x2="538.7" y2="2347.1" stroke="#4169bd" stroke-width="3.4"/>
<line x1="553.7" y1="2358.3" x2="670.8" y2="2744.9" stroke="#4169bd" stroke-width="3.4"/>
<line x1="680.4" y1="2765.8" x2="790.3" y2="2938.2" stroke="#4169bd" stroke-width="3.4"/>
<line x1="806.8" y1="2953.4" x2="909.4" y2="3007.2" stroke="#4169bd" stroke-width="3.4"/>
<line x1="931.3" y1="3013.3" x2="1031.4" y2="3019" stroke="#4169bd" stroke-width="3.4"/>
<line x1="1054.6" y1="3019.8" x2="1154.8" y2="3020.4" stroke="#4169bd" stroke-width="3.4"/>
<line x1="1178" y1="3020.5" x2="1278.3" y2="3021" stroke="#4169bd" stroke-width="3.4"/>
<circle cx="304" cy="2277.6" r="10" fill="url(#m_blue)"/>
<circle cx="427" cy="2346.6" r="10" fill="url(#m_blue)"/>
<circle cx="550.3" cy="2347.2" r="10" fill="url(#m_blue)"/>
<circle cx="674.2" cy="2756" r="10" fill="url(#m_blue)"/>
<circle cx="796.5" cy="2948" r="10" fill="url(#m_blue)"/>
<circle cx="919.7" cy="3012.6" r="10" fill="url(#m_blue)"/>
<circle cx="1043" cy="3019.7" r="10" fill="url(#m_blue)"/>
<circle cx="1166.4" cy="3020.5" r="10" fill="url(#m_blue)"/>
<circle cx="1289.9" cy="3021" r="10" fill="url(#m_blue)"/>
<line x1="314.2" y1="2283.1" x2="416.8" y2="2338.8" stroke="#7a8359" stroke-width="3.4"/>
<line x1="438.6" y1="2344.4" x2="538.7" y2="2345.2" stroke="#7a8359" stroke-width="3.4"/>
<line x1="553.8" y1="2356.4" x2="670.7" y2="2722.3" stroke="#7a8359" stroke-width="3.4"/>
<line x1="681" y1="2742.8" x2="789.7" y2="2893.1" stroke="#7a8359" stroke-width="3.4"/>
<line x1="806.7" y1="2908" x2="909.5" y2="2962.7" stroke="#7a8359" stroke-width="3.4"/>
<line x1="930.9" y1="2971.2" x2="1031.8" y2="2997.7" stroke="#7a8359" stroke-width="3.4"/>
<line x1="1054.5" y1="3002.2" x2="1154.9" y2="3015" stroke="#7a8359" stroke-width="3.4"/>
<line x1="1178" y1="3016.9" x2="1278.3" y2="3020.1" stroke="#7a8359" stroke-width="3.4"/>
<circle cx="304" cy="2277.6" r="10" fill="url(#m_olive)"/>
<circle cx="427" cy="2344.3" r="10" fill="url(#m_olive)"/>
<circle cx="550.3" cy="2345.3" r="10" fill="url(#m_olive)"/>
<circle cx="674.2" cy="2733.4" r="10" fill="url(#m_olive)"/>
<circle cx="796.5" cy="2902.5" r="10" fill="url(#m_olive)"/>
<circle cx="919.7" cy="2968.2" r="10" fill="url(#m_olive)"/>
<circle cx="1043" cy="3000.7" r="10" fill="url(#m_olive)"/>
<circle cx="1166.4" cy="3016.5" r="10" fill="url(#m_olive)"/>
<circle cx="1289.9" cy="3020.5" r="10" fill="url(#m_olive)"/>
<line x1="314.2" y1="2283" x2="416.8" y2="2337.6" stroke="#b9c0a0" stroke-width="3.4"/>
<line x1="438.6" y1="2342.7" x2="538.7" y2="2340.3" stroke="#b9c0a0" stroke-width="3.4"/>
<line x1="555.2" y1="2350.5" x2="669.3" y2="2596.5" stroke="#b9c0a0" stroke-width="3.4"/>
<line x1="679.8" y1="2617.2" x2="790.9" y2="2818.3" stroke="#b9c0a0" stroke-width="3.4"/>
<line x1="806.3" y1="2834.7" x2="909.9" y2="2900.3" stroke="#b9c0a0" stroke-width="3.4"/>
<line x1="930.1" y1="2911.6" x2="1032.6" y2="2961.9" stroke="#b9c0a0" stroke-width="3.4"/>
<line x1="1054" y1="2970.8" x2="1155.4" y2="3005.6" stroke="#b9c0a0" stroke-width="3.4"/>
<line x1="1178" y1="3010.2" x2="1278.3" y2="3017.2" stroke="#b9c0a0" stroke-width="3.4"/>
<circle cx="304" cy="2277.6" r="10" fill="url(#m_beige)"/>
<circle cx="427" cy="2343" r="10" fill="url(#m_beige)"/>
<circle cx="550.3" cy="2340" r="10" fill="url(#m_beige)"/>
<circle cx="674.2" cy="2607" r="10" fill="url(#m_beige)"/>
<circle cx="796.5" cy="2828.5" r="10" fill="url(#m_beige)"/>
<circle cx="919.7" cy="2906.5" r="10" fill="url(#m_beige)"/>
<circle cx="1043" cy="2967" r="10" fill="url(#m_beige)"/>
<circle cx="1166.4" cy="3009.4" r="10" fill="url(#m_beige)"/>
<circle cx="1289.9" cy="3018" r="10" fill="url(#m_beige)"/>
<line x1="314.5" y1="2282.5" x2="416.5" y2="2330.7" stroke="#3fa869" stroke-width="3.4"/>
<line x1="438.6" y1="2335" x2="538.7" y2="2330.1" stroke="#3fa869" stroke-width="3.4"/>
<line x1="555.6" y1="2339.8" x2="668.9" y2="2559.1" stroke="#3fa869" stroke-width="3.4"/>
<line x1="680.4" y1="2579.2" x2="790.3" y2="2752.2" stroke="#3fa869" stroke-width="3.4"/>
<line x1="805.2" y1="2769.6" x2="911" y2="2862.4" stroke="#3fa869" stroke-width="3.4"/>
<line x1="929.5" y1="2876.2" x2="1033.2" y2="2941" stroke="#3fa869" stroke-width="3.4"/>
<line x1="1054" y1="2950.7" x2="1155.4" y2="2983.3" stroke="#3fa869" stroke-width="3.4"/>
<line x1="1177.8" y1="2988.9" x2="1278.5" y2="3007.7" stroke="#3fa869" stroke-width="3.4"/>
<circle cx="304" cy="2277.6" r="10" fill="url(#m_tgreen)"/>
<circle cx="427" cy="2335.6" r="10" fill="url(#m_tgreen)"/>
<circle cx="550.3" cy="2329.5" r="10" fill="url(#m_tgreen)"/>
<circle cx="674.2" cy="2569.4" r="10" fill="url(#m_tgreen)"/>
<circle cx="796.5" cy="2762" r="10" fill="url(#m_tgreen)"/>
<circle cx="919.7" cy="2870" r="10" fill="url(#m_tgreen)"/>
<circle cx="1043" cy="2947.2" r="10" fill="url(#m_tgreen)"/>
<circle cx="1166.4" cy="2986.8" r="10" fill="url(#m_tgreen)"/>
<circle cx="1289.9" cy="3009.8" r="10" fill="url(#m_tgreen)"/>
<line x1="314.3" y1="2283" x2="416.7" y2="2337.2" stroke="#9a62bd" stroke-width="3.4"/>
<line x1="438.6" y1="2342.1" x2="538.7" y2="2337.5" stroke="#9a62bd" stroke-width="3.4"/>
<line x1="554.5" y1="2347.8" x2="670" y2="2647.7" stroke="#9a62bd" stroke-width="3.4"/>
<line x1="680.1" y1="2668.5" x2="790.6" y2="2855.3" stroke="#9a62bd" stroke-width="3.4"/>
<line x1="806" y1="2871.9" x2="910.2" y2="2944.6" stroke="#9a62bd" stroke-width="3.4"/>
<line x1="930" y1="2956.4" x2="1032.7" y2="3008.5" stroke="#9a62bd" stroke-width="3.4"/>
<line x1="1054.6" y1="3014.3" x2="1154.8" y2="3019.1" stroke="#9a62bd" stroke-width="3.4"/>
<line x1="1178" y1="3019.8" x2="1278.3" y2="3020.4" stroke="#9a62bd" stroke-width="3.4"/>
<circle cx="304" cy="2277.6" r="10" fill="url(#m_purple)"/>
<circle cx="427" cy="2342.6" r="10" fill="url(#m_purple)"/>
<circle cx="550.3" cy="2337" r="10" fill="url(#m_purple)"/>
<circle cx="674.2" cy="2658.5" r="10" fill="url(#m_purple)"/>
<circle cx="796.5" cy="2865.3" r="10" fill="url(#m_purple)"/>
<circle cx="919.7" cy="2951.2" r="10" fill="url(#m_purple)"/>
<circle cx="1043" cy="3013.7" r="10" fill="url(#m_purple)"/>
<circle cx="1166.4" cy="3019.7" r="10" fill="url(#m_purple)"/>
<circle cx="1289.9" cy="3020.5" r="10" fill="url(#m_purple)"/>
<line x1="1026.6" y1="2260.6" x2="1073.2" y2="2260.6" stroke="#4169bd" stroke-width="3.8"/>
<line x1="1094.8" y1="2260.6" x2="1143.4" y2="2260.6" stroke="#4169bd" stroke-width="3.8"/>
<circle cx="1084" cy="2260.6" r="10" fill="url(#m_blue)"/>
<text x="1154.5" y="2276.6" font-size="50" text-anchor="start" fill="#1c1c1e">BPA</text>
<line x1="1026.6" y1="2324" x2="1073.2" y2="2324" stroke="#7a8359" stroke-width="3.8"/>
<line x1="1094.8" y1="2324" x2="1143.4" y2="2324" stroke="#7a8359" stroke-width="3.8"/>
<circle cx="1084" cy="2324" r="10" fill="url(#m_olive)"/>
<text x="1154.5" y="2340" font-size="50" text-anchor="start" fill="#1c1c1e">Phenol</text>
<line x1="1026.6" y1="2387" x2="1073.2" y2="2387" stroke="#b9c0a0" stroke-width="3.8"/>
<line x1="1094.8" y1="2387" x2="1143.4" y2="2387" stroke="#b9c0a0" stroke-width="3.8"/>
<circle cx="1084" cy="2387" r="10" fill="url(#m_beige)"/>
<text x="1154.5" y="2403" font-size="50" text-anchor="start" fill="#1c1c1e">CPFX</text>
<line x1="1026.6" y1="2449" x2="1073.2" y2="2449" stroke="#3fa869" stroke-width="3.8"/>
<line x1="1094.8" y1="2449" x2="1143.4" y2="2449" stroke="#3fa869" stroke-width="3.8"/>
<circle cx="1084" cy="2449" r="10" fill="url(#m_tgreen)"/>
<text x="1154.5" y="2465" font-size="50" text-anchor="start" fill="#1c1c1e">OTC</text>
<line x1="1026.6" y1="2511.6" x2="1073.2" y2="2511.6" stroke="#9a62bd" stroke-width="3.8"/>
<line x1="1094.8" y1="2511.6" x2="1143.4" y2="2511.6" stroke="#9a62bd" stroke-width="3.8"/>
<circle cx="1084" cy="2511.6" r="10" fill="url(#m_purple)"/>
<text x="1154.5" y="2527.6" font-size="50" text-anchor="start" fill="#1c1c1e">TC</text>
<line x1="242.5" y1="2200.9" x2="242.5" y2="3098.4" stroke="#222226" stroke-width="4.6"/>
<line x1="1350.5" y1="2200.9" x2="1350.5" y2="3098.4" stroke="#222226" stroke-width="5.5"/>
<line x1="240.2" y1="2203.1" x2="1353.2" y2="2203.1" stroke="#222226" stroke-width="4.4"/>
<line x1="240.2" y1="3095.9" x2="1353.2" y2="3095.9" stroke="#222226" stroke-width="5"/>
<line x1="1356.3" y1="2196" x2="1356.3" y2="3230" stroke="#ececee" stroke-width="2.6"/>
</g>
<g id="panel-f">
<rect x="1668.3" y="2299.7" width="136.1" height="791.1" fill="url(#bolive)"/>
<rect x="1894.7" y="2381.3" width="136.6" height="709.5" fill="url(#bblue)"/>
<rect x="2120.5" y="2539.4" width="137.4" height="551.4" fill="url(#bbeige)"/>
<rect x="2347" y="2624.3" width="135.8" height="466.5" fill="url(#bgreen)"/>
<rect x="2571.9" y="2603.8" width="136.6" height="487" fill="url(#bdpurple)"/>
<line x1="1604.5" y1="3090.8" x2="1623.7" y2="3090.8" stroke="#222226" stroke-width="4.4"/>
<text x="1593" y="3106.1" font-size="52" text-anchor="end" fill="#1c1c1e">0</text>
<line x1="1604.5" y1="2911" x2="1623.7" y2="2911" stroke="#222226" stroke-width="4.4"/>
<text x="1593" y="2926.3" font-size="52" text-anchor="end" fill="#1c1c1e">20</text>
<line x1="1604.5" y1="2731.2" x2="1623.7" y2="2731.2" stroke="#222226" stroke-width="4.4"/>
<text x="1593" y="2746.5" font-size="52" text-anchor="end" fill="#1c1c1e">40</text>
<line x1="1604.5" y1="2551.5" x2="1623.7" y2="2551.5" stroke="#222226" stroke-width="4.4"/>
<text x="1593" y="2566.8" font-size="52" text-anchor="end" fill="#1c1c1e">60</text>
<line x1="1604.5" y1="2371.7" x2="1623.7" y2="2371.7" stroke="#222226" stroke-width="4.4"/>
<text x="1593" y="2387" font-size="52" text-anchor="end" fill="#1c1c1e">80</text>
<line x1="1604.5" y1="2191.9" x2="1623.7" y2="2191.9" stroke="#222226" stroke-width="4.4"/>
<text x="1593" y="2207.2" font-size="52" text-anchor="end" fill="#1c1c1e">100</text>
<line x1="1736.3" y1="3072.2" x2="1736.3" y2="3090.8" stroke="#222226" stroke-width="4.4"/>
<line x1="1962.8" y1="3072.2" x2="1962.8" y2="3090.8" stroke="#222226" stroke-width="4.4"/>
<line x1="2187.8" y1="3072.2" x2="2187.8" y2="3090.8" stroke="#222226" stroke-width="4.4"/>
<line x1="2414.3" y1="3072.2" x2="2414.3" y2="3090.8" stroke="#222226" stroke-width="4.4"/>
<line x1="2640.8" y1="3072.2" x2="2640.8" y2="3090.8" stroke="#222226" stroke-width="4.4"/>
<line x1="1623.7" y1="2190.3" x2="1623.7" y2="3093.2" stroke="#222226" stroke-width="5.2"/>
<line x1="2753.6" y1="2190.3" x2="2753.6" y2="3093.2" stroke="#222226" stroke-width="6"/>
<line x1="1604.5" y1="2191.9" x2="2756.6" y2="2191.9" stroke="#222226" stroke-width="3.4"/>
<line x1="1604.5" y1="3090.8" x2="2756.6" y2="3090.8" stroke="#222226" stroke-width="4.8"/>
<text transform="translate(1496 2641.7) rotate(-90)" font-size="51" text-anchor="middle" fill="#1c1c1e">Mineralization rate (%)</text>
<text x="1405.6" y="2207" font-size="97" text-anchor="start" fill="#1c1c1e">(f)</text>
<text x="1737" y="2268.6" font-size="51" text-anchor="middle" fill="#1c1c1e">88.01%</text>
<text x="1961" y="2350.9" font-size="51" text-anchor="middle" fill="#1c1c1e">78.93%</text>
<text x="2192.8" y="2513.2" font-size="51" text-anchor="middle" fill="#1c1c1e">61.34%</text>
<text x="2412" y="2601.1" font-size="51" text-anchor="middle" fill="#1c1c1e">51.9%</text>
<text x="2639" y="2582.5" font-size="51" text-anchor="middle" fill="#1c1c1e">54.18%</text>
<text x="1729" y="3178.8" font-size="51.5" text-anchor="middle" fill="#1c1c1e">Phenol</text>
<text x="1957" y="3178.8" font-size="51.5" text-anchor="middle" fill="#1c1c1e">BPA</text>
<text x="2182" y="3178.8" font-size="51.5" text-anchor="middle" fill="#1c1c1e">CPFX</text>
<text x="2419" y="3178.8" font-size="51.5" text-anchor="middle" fill="#1c1c1e">OTC</text>
<text x="2634.6" y="3178.8" font-size="51.5" text-anchor="middle" fill="#1c1c1e">TC</text>
</g>
</svg></body></html>
